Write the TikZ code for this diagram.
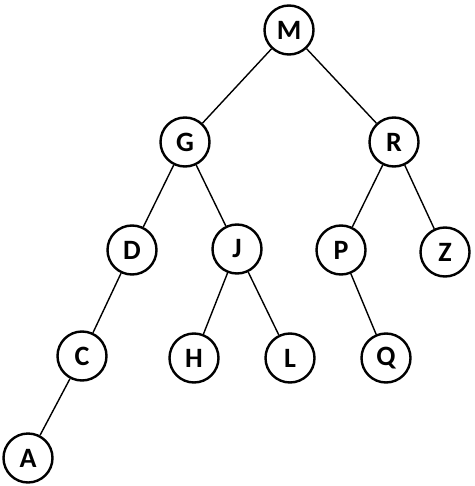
\documentclass[tikz,border=0pt]{standalone}
\usepackage{fontspec}
\setmainfont{Carlito}
\usepackage{tikz}
\tikzset{key/.style = {draw, circle, line width=2.4pt, minimum size=49pt, inner sep=0pt, font=\fontsize{28}{28}\selectfont\bfseries}}
\tikzset{edge/.style = {line width=1.4pt}}

\begin{document}
\begin{tikzpicture}[x=1pt, y=-1pt]
\useasboundingbox (0,0) rectangle (474,486);

\node[key] (nM) at (289, 30) {M};
\node[key] (nG) at (185, 142) {G};
\node[key] (nR) at (394, 142) {R};
\node[key] (nD) at (132, 250) {D};
\node[key] (nJ) at (237, 249) {J};
\node[key] (nP) at (341, 250) {P};
\node[key] (nZ) at (445, 252) {Z};
\node[key] (nC) at (82, 356) {C};
\node[key] (nH) at (194, 358) {H};
\node[key] (nL) at (290, 358) {L};
\node[key] (nQ) at (386, 358) {Q};
\node[key] (nA) at (28, 458) {A};

\draw[edge] (nM) -- (nG);
\draw[edge] (nM) -- (nR);
\draw[edge] (nG) -- (nD);
\draw[edge] (nG) -- (nJ);
\draw[edge] (nR) -- (nP);
\draw[edge] (nR) -- (nZ);
\draw[edge] (nD) -- (nC);
\draw[edge] (nJ) -- (nH);
\draw[edge] (nJ) -- (nL);
\draw[edge] (nP) -- (nQ);
\draw[edge] (nC) -- (nA);

\end{tikzpicture}
\end{document}
